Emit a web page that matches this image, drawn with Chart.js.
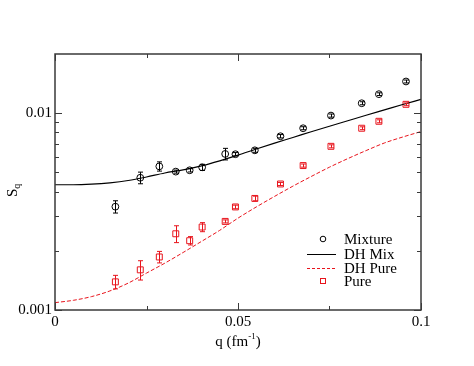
<!DOCTYPE html>
<html>
<head>
<meta charset="utf-8">
<script src="https://cdn.jsdelivr.net/npm/chart.js@4.4.1/dist/chart.umd.min.js"></script>
<style>
  html, body { margin: 0; padding: 0; background: #fff; }
  #wrap { width: 474px; height: 366px; }
</style>
</head>
<body>
<div id="wrap"><canvas id="chart" width="474" height="366"></canvas></div>
<script>
// measured points (same q for both samples)
const qPoints = [0.0165, 0.0233, 0.0285, 0.0330, 0.0368, 0.0402, 0.0465, 0.0493,
                 0.0546, 0.0616, 0.0678, 0.0754, 0.0838, 0.0885, 0.0959];
const mixtureS = [0.00335, 0.00470, 0.00537, 0.00505, 0.00513, 0.00531, 0.00621, 0.00619,
                  0.00648, 0.00764, 0.00839, 0.00973, 0.01124, 0.01250, 0.01450];
const mixtureErr = [0.00024, 0.00032, 0.00029, 0.00009, 0.00010, 0.00019, 0.00042, 0.00012,
                    0.00015, 0.00015, 0.00015, 0.00018, 0.00020, 0.00020, 0.00025];
const pureS = [0.00139, 0.00160, 0.00186, 0.00244, 0.00225, 0.00264, 0.00282, 0.00334,
               0.00369, 0.00437, 0.00542, 0.00679, 0.00839, 0.00910, 0.01110];
const pureErr = [0.00011, 0.00018, 0.000125, 0.00024, 0.00011, 0.00014, 0.00005, 0.00007,
                 0.00010, 0.00008, 0.00010, 0.00012, 0.00014, 0.00016, 0.00018];

// Debye-Hueckel curves
const curveQ = [0, 0.005, 0.01, 0.015, 0.02, 0.025, 0.03, 0.035, 0.04, 0.045, 0.05,
                0.055, 0.06, 0.065, 0.07, 0.075, 0.08, 0.085, 0.09, 0.095, 0.1];
const dhMix = [0.00433, 0.00433, 0.00436, 0.00443, 0.00455, 0.00474, 0.00497, 0.00515,
               0.00540, 0.00573, 0.00612, 0.00658, 0.00705, 0.00753, 0.00805, 0.00859,
               0.00916, 0.00977, 0.01040, 0.01107, 0.01175];
const dhPure = [0.00109, 0.00112, 0.00117, 0.00125, 0.00137, 0.00154, 0.00173, 0.00196,
                0.00223, 0.00254, 0.00293, 0.00334, 0.00378, 0.00426, 0.00477, 0.00532,
                0.00588, 0.00646, 0.00706, 0.00757, 0.00807];

const xTickValues = [0, 0.05, 0.1];
const xTickLabels = ["0", "0.05", "0.1"];
const xMinorTicks = [0.025, 0.075];
const yTickValues = [0.001, 0.01];
const yTickLabels = ["0.001", "0.01"];
const yMinorTicks = [0.002, 0.003, 0.004, 0.005, 0.006, 0.007, 0.008, 0.009];

const legendNames = ["Mixture", "DH Mix", "DH Pure", "Pure"];

const RED = "#e8141c";
const FONT = "'Liberation Serif', 'Times New Roman', serif";

const toXY = (xs, ys) => xs.map((x, i) => ({ x: x, y: ys[i] }));

const errorBars = {
    id: "errorBars",
    afterDatasetsDraw(chart) {
        const { ctx, scales: { x, y } } = chart;
        const sets = [[mixtureS, mixtureErr, "#000"], [pureS, pureErr, RED]];
        ctx.save();
        ctx.lineWidth = 1;
        sets.forEach(([vals, errs, color]) => {
            ctx.strokeStyle = color;
            vals.forEach((v, i) => {
                const px = Math.round(x.getPixelForValue(qPoints[i])) + 0.5;
                const lo = y.getPixelForValue(v - errs[i]);
                const hi = y.getPixelForValue(v + errs[i]);
                ctx.beginPath();
                ctx.moveTo(px, lo); ctx.lineTo(px, hi);
                ctx.moveTo(px - 2.5, lo); ctx.lineTo(px + 2.5, lo);
                ctx.moveTo(px - 2.5, hi); ctx.lineTo(px + 2.5, hi);
                ctx.stroke();
            });
        });
        ctx.restore();
    },
};

const frame = {
    id: "frame",
    afterDraw(chart) {
        const { ctx, chartArea: a, scales: { x, y } } = chart;
        ctx.save();
        ctx.strokeStyle = "#3a3a3a";
        ctx.lineWidth = 1.5;
        ctx.strokeRect(a.left, a.top, a.right - a.left, a.bottom - a.top);

        ctx.lineWidth = 1;
        ctx.beginPath();
        const xt = (v, len) => {
            const px = Math.round(x.getPixelForValue(v)) + 0.5;
            ctx.moveTo(px, a.bottom); ctx.lineTo(px, a.bottom - len);
            ctx.moveTo(px, a.top); ctx.lineTo(px, a.top + len);
        };
        const yt = (v, len) => {
            const py = Math.round(y.getPixelForValue(v)) + 0.5;
            ctx.moveTo(a.left, py); ctx.lineTo(a.left + len, py);
            ctx.moveTo(a.right, py); ctx.lineTo(a.right - len, py);
        };
        xTickValues.forEach((v) => xt(v, 7));
        xMinorTicks.forEach((v) => xt(v, 4));
        yTickValues.forEach((v) => yt(v, 7));
        yMinorTicks.forEach((v) => yt(v, 4));
        ctx.stroke();

        // axis titles
        ctx.fillStyle = "#000";
        ctx.textBaseline = "alphabetic";
        const t1 = "q (fm", t2 = "-1", t3 = ")";
        ctx.font = "15px " + FONT;
        const w1 = ctx.measureText(t1).width;
        const w3 = ctx.measureText(t3).width;
        ctx.font = "9px " + FONT;
        const w2 = ctx.measureText(t2).width;
        const sx = 238 - (w1 + w2 + w3) / 2;
        ctx.font = "15px " + FONT;
        ctx.fillText(t1, sx, 346);
        ctx.font = "9px " + FONT;
        ctx.fillText(t2, sx + w1, 339);
        ctx.font = "15px " + FONT;
        ctx.fillText(t3, sx + w1 + w2, 346);

        ctx.save();
        ctx.translate(17, 190);
        ctx.rotate(-Math.PI / 2);
        ctx.font = "15px " + FONT;
        const ws = ctx.measureText("S").width;
        ctx.fillText("S", -7, 0);
        ctx.font = "10px " + FONT;
        ctx.fillText("q", -7 + ws, 3);
        ctx.restore();

        // legend
        const rows = [239, 254, 268, 281];
        ctx.font = "15px " + FONT;
        ctx.textBaseline = "middle";
        legendNames.forEach((name, i) => ctx.fillText(name, 344, rows[i] + 1));
        ctx.lineWidth = 1;
        ctx.strokeStyle = "#000";
        ctx.beginPath();
        ctx.arc(323, rows[0], 2.8, 0, Math.PI * 2);
        ctx.stroke();
        ctx.beginPath();
        ctx.moveTo(307, rows[1] + 0.5); ctx.lineTo(336, rows[1] + 0.5);
        ctx.stroke();
        ctx.strokeStyle = RED;
        ctx.setLineDash([3, 2]);
        ctx.beginPath();
        ctx.moveTo(307, rows[2] + 0.5); ctx.lineTo(336, rows[2] + 0.5);
        ctx.stroke();
        ctx.setLineDash([]);
        ctx.strokeRect(320.5, rows[3] - 2.5, 5, 5);
        ctx.restore();
    },
};

new Chart(document.getElementById("chart"), {
    type: "scatter",
    data: {
        datasets: [
            {
                label: "DH Mix",
                data: toXY(curveQ, dhMix),
                showLine: true,
                borderColor: "#000",
                borderWidth: 1.2,
                pointRadius: 0,
                cubicInterpolationMode: "monotone",
            },
            {
                label: "DH Pure",
                data: toXY(curveQ, dhPure),
                showLine: true,
                borderColor: RED,
                borderWidth: 1,
                borderDash: [4, 2],
                pointRadius: 0,
                cubicInterpolationMode: "monotone",
            },
            {
                label: "Mixture",
                data: toXY(qPoints, mixtureS),
                pointStyle: "circle",
                pointRadius: 3.4,
                borderColor: "#000",
                backgroundColor: "rgba(0,0,0,0)",
                borderWidth: 1,
            },
            {
                label: "Pure",
                data: toXY(qPoints, pureS),
                pointStyle: "rect",
                pointRadius: 4.2,
                borderColor: RED,
                backgroundColor: "rgba(0,0,0,0)",
                borderWidth: 1,
            },
        ],
    },
    options: {
        responsive: false,
        animation: false,
        devicePixelRatio: 1,
        layout: { padding: { top: 54, right: 53, left: 0, bottom: 0 } },
        plugins: { legend: { display: false }, tooltip: { enabled: false } },
        scales: {
            x: {
                type: "linear",
                min: 0,
                max: 0.1,
                afterBuildTicks: (s) => { s.ticks = xTickValues.map((v) => ({ value: v })); },
                afterFit: (s) => { s.height = 56; },
                grid: { display: false, drawTicks: false },
                border: { display: false },
                ticks: {
                    color: "#000",
                    padding: 3,
                    maxRotation: 0,
                    font: { family: FONT, size: 15 },
                    callback: (v, i) => xTickLabels[i],
                },
            },
            y: {
                type: "logarithmic",
                min: 0.001,
                max: 0.02,
                afterBuildTicks: (s) => { s.ticks = yTickValues.map((v) => ({ value: v })); },
                afterFit: (s) => { s.width = 55; },
                grid: { display: false, drawTicks: false },
                border: { display: false },
                ticks: {
                    color: "#000",
                    padding: 3,
                    font: { family: FONT, size: 15 },
                    callback: (v, i) => yTickLabels[i],
                },
            },
        },
    },
    plugins: [errorBars, frame],
});
</script>
</body>
</html>
